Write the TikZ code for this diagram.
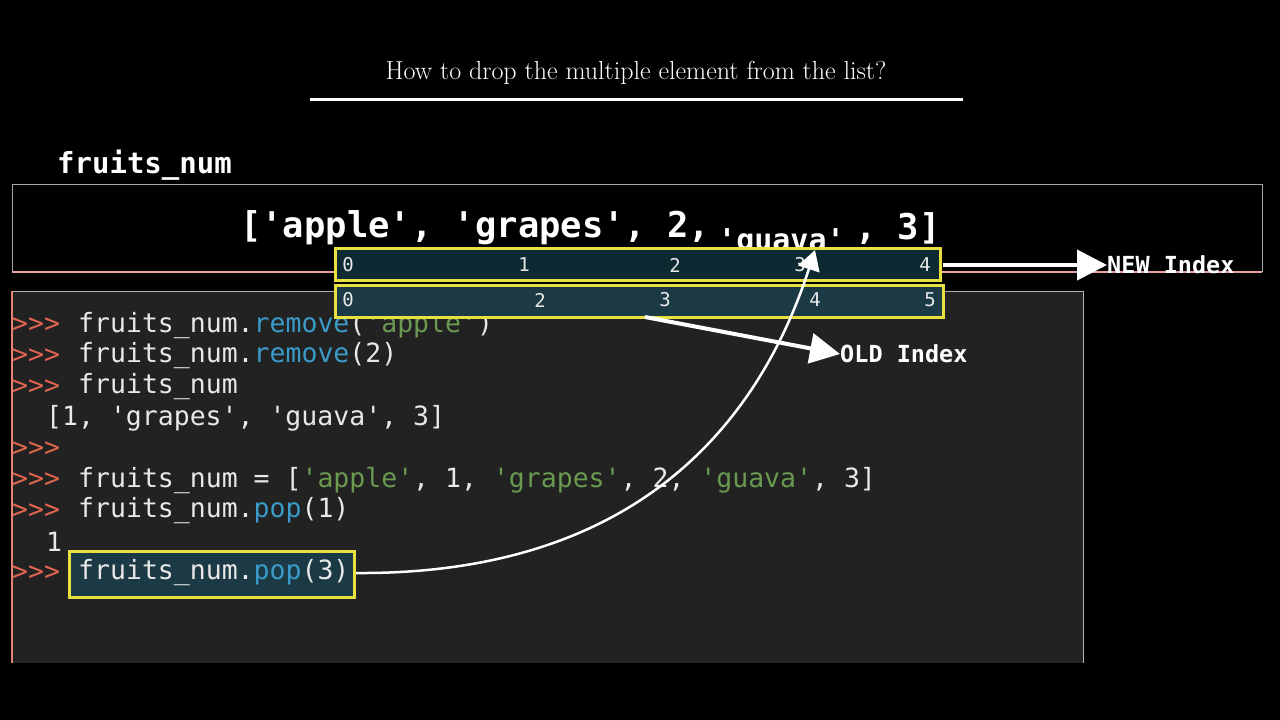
\documentclass[tikz,border=0pt]{standalone}
\usepackage{fontspec}
\setmonofont{DejaVu Sans Mono}
\usetikzlibrary{arrows.meta}
\definecolor{prm}{HTML}{E0654F}
\definecolor{fn}{HTML}{3A9AC8}
\definecolor{st}{HTML}{6A9A50}
\definecolor{tx}{HTML}{E8E8E8}
\definecolor{panel}{HTML}{222222}
\definecolor{tealA}{HTML}{0D2A33}
\definecolor{tealB}{HTML}{1C3A45}
\definecolor{ybox}{HTML}{E8E040}
\definecolor{pinkb}{HTML}{E8A0A0}
\tikzset{
 code/.style={anchor=west,inner sep=0pt,text=tx,font=\fontsize{26.5}{26.5}\selectfont\ttfamily},
 idx/.style={anchor=center,inner sep=0pt,text=tx,font=\fontsize{19}{19}\selectfont\ttfamily},
 lbl/.style={anchor=west,inner sep=0pt,text=white,font=\fontsize{23.5}{23.5}\selectfont\ttfamily\bfseries},
 big/.style={anchor=west,inner sep=0pt,text=white,font=\fontsize{35.5}{35.5}\selectfont\ttfamily\bfseries},
 yb/.style={draw=ybox,line width=3pt},
 arr/.style={draw=white,line width=4pt,-{Triangle[length=30pt,width=30pt]}},
}
\begin{document}
\begin{tikzpicture}[x=1pt,y=-1pt]
\fill[black] (0,0) rectangle (1280,720);
\useasboundingbox (0,0) rectangle (1280,720);
\node[text=white,font=\fontsize{26}{26}\selectfont] (title) at (636,73) {How to drop the multiple element from the list?};
\draw[white,line width=3pt] (310,99) -- (963,99);
\node[lbl,font=\fontsize{29}{29}\selectfont\ttfamily\bfseries] (fn) at (57,165) {fruits\_num};
\draw[gray!70,line width=1pt] (12,272) -- (12,184) -- (1262,184) -- (1262,272);
\draw[pinkb,line width=2pt] (12,272) -- (1262,272);
\node[big] (l1) at (240,228) {['apple', 'grapes', 2,};
\node[big,font=\fontsize{30}{30}\selectfont\ttfamily\bfseries] (l2) at (718,243) {'guava'};
\node[big] (l3) at (855,228) {, 3]};
\fill[panel] (12,291) rectangle (1083,663);
\draw[gray!60,line width=0.8pt] (12,291) -- (1083,291) -- (1083,663);
\draw[prm!80,line width=2pt] (12,291) -- (12,663);
\foreach \y in {325,356,387,449,480,511,573}{\node[code,text=prm] at (12,\y) {>>>};}
\node[code] (c1) at (78,325) {fruits\_num.\textcolor{fn}{remove}(\textcolor{st}{'apple'})};
\node[code] (c2) at (78,356) {fruits\_num.\textcolor{fn}{remove}(2)};
\node[code] (c3) at (78,387) {fruits\_num};
\node[code] (c4) at (46,418) {[1, 'grapes', 'guava', 3]};
\node[code] (c5) at (78,480) {fruits\_num = [\textcolor{st}{'apple'}, 1, \textcolor{st}{'grapes'}, 2, \textcolor{st}{'guava'}, 3]};
\node[code] (c6) at (78,511) {fruits\_num.\textcolor{fn}{pop}(1)};
\node[code] (c7) at (46,542) {1};
\draw[yb,fill=tealB] (69,551) rectangle (354,597);
\node[code] (pop) at (78,573) {fruits\_num.\textcolor{fn}{pop}(3)};
\coordinate (popR) at (356,573);
\draw[yb,fill=tealA] (335,248) rectangle (940,280);
\draw[yb,fill=tealB] (335,285) rectangle (943,317);
\foreach \x/\t in {348/0,524/1,675/2,800/3,925/4}{\node[idx] at (\x,265) {\t};}
\foreach \x/\t in {348/0,540/2,665/3,815/4,930/5}{\node[idx] at (\x,300) {\t};}
\coordinate (newS) at (943,265);
\coordinate (oldS) at (645,317);
\node[lbl] (newL) at (1107,265) {NEW Index};
\node[lbl] (oldL) at (840,354) {OLD Index};
\draw[arr] (newS) -- (newL.west);
\draw[arr] (oldS) -- (oldL.west);
\coordinate (tgt) at (815,250);
\draw[white,line width=2.5pt,-{Triangle[length=20pt,width=22pt]}] (popR) .. controls (640,575) and (760,420) .. (tgt);
\end{tikzpicture}
\end{document}
